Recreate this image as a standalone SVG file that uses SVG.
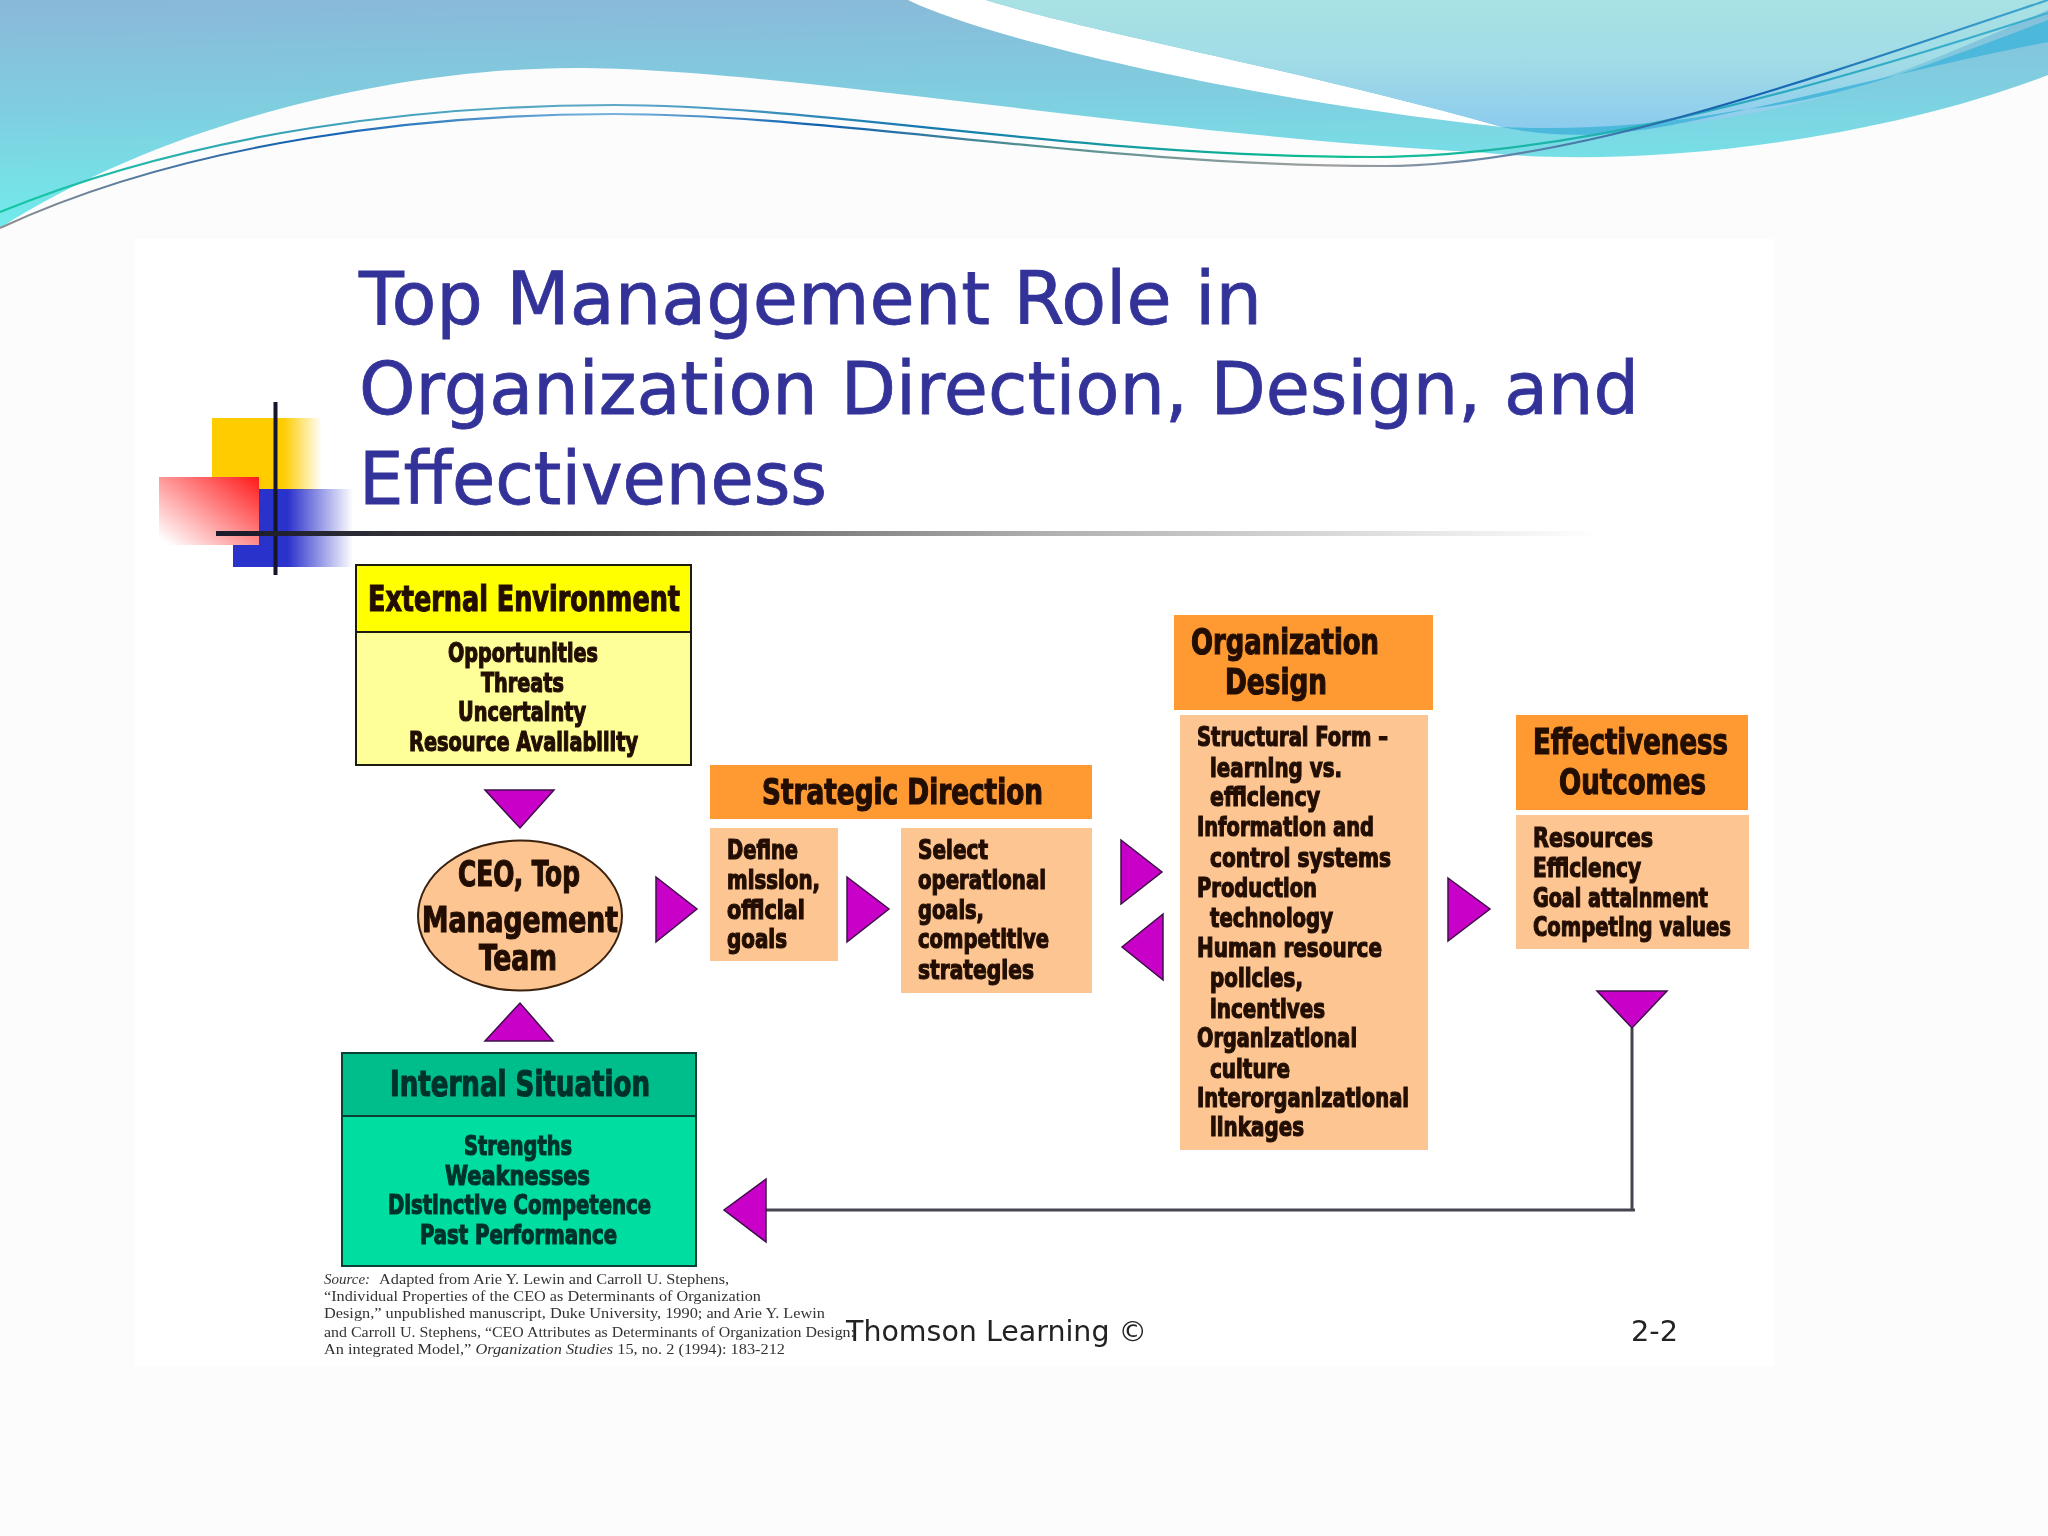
<svg xmlns="http://www.w3.org/2000/svg" width="2048" height="1536" viewBox="0 0 2048 1536">
<defs>
<filter id="soft" x="0" y="0" width="100%" height="100%" filterUnits="userSpaceOnUse"><feGaussianBlur stdDeviation="0.6"/></filter>
<linearGradient id="sky" x1="0" y1="0" x2="0.12" y2="1"><stop offset="0" stop-color="#8ab8d8"/><stop offset="0.5" stop-color="#7fcfe0"/><stop offset="1" stop-color="#70ecec"/></linearGradient>
<linearGradient id="pale" gradientUnits="userSpaceOnUse" x1="0" y1="0" x2="0" y2="130"><stop offset="0" stop-color="#a8e2e4"/><stop offset="0.45" stop-color="#a2dce6"/><stop offset="1" stop-color="#8ccbee"/></linearGradient>
<linearGradient id="lineA" gradientUnits="userSpaceOnUse" x1="0" y1="0" x2="2048" y2="0"><stop offset="0" stop-color="#14c8a0"/><stop offset="0.15" stop-color="#3aa0b8"/><stop offset="0.3" stop-color="#60a8c8"/><stop offset="0.45" stop-color="#1478b0"/><stop offset="0.65" stop-color="#10c090"/><stop offset="0.85" stop-color="#28a8c0"/><stop offset="1" stop-color="#40b0d0"/></linearGradient>
<linearGradient id="lineB" gradientUnits="userSpaceOnUse" x1="0" y1="0" x2="2048" y2="0"><stop offset="0" stop-color="#909090"/><stop offset="0.15" stop-color="#1060b0"/><stop offset="0.3" stop-color="#78b4dc"/><stop offset="0.4" stop-color="#1060b0"/><stop offset="0.5" stop-color="#509090"/><stop offset="0.65" stop-color="#a0a0a0"/><stop offset="0.85" stop-color="#1060b0"/><stop offset="1" stop-color="#40a8d0"/></linearGradient>
<linearGradient id="fadeY" x1="0" y1="0" x2="1" y2="0"><stop offset="0.65" stop-color="#ffcc00"/><stop offset="1" stop-color="#ffcc00" stop-opacity="0"/></linearGradient>
<linearGradient id="fadeB" x1="0" y1="0" x2="1" y2="0"><stop offset="0.45" stop-color="#2a30cc"/><stop offset="1" stop-color="#2a30cc" stop-opacity="0"/></linearGradient>
<linearGradient id="fadeR" x1="1" y1="0" x2="0" y2="0.9"><stop offset="0" stop-color="#ff1a1a"/><stop offset="1" stop-color="#ffffff"/></linearGradient>
<linearGradient id="rule" gradientUnits="userSpaceOnUse" x1="216" y1="0" x2="1600" y2="0"><stop offset="0" stop-color="#1a1a2a"/><stop offset="0.25" stop-color="#444"/><stop offset="0.6" stop-color="#b0b0b0"/><stop offset="1" stop-color="#fff"/></linearGradient>
</defs>
<style>
.t{font-family:"Liberation Sans Narrow","DejaVu Sans Condensed","Liberation Sans",sans-serif;font-weight:700;fill:#221006;stroke:#221006;stroke-width:1.2}
.h{font-size:36px}.b{font-size:27px}
.g{fill:#06332c;stroke:#06332c}
.title{font-family:"DejaVu Sans",sans-serif;font-size:73px;fill:#333399;stroke:#333399;stroke-width:.8}
.foot{font-family:"DejaVu Sans",sans-serif;font-size:29px;fill:#222}
.src{font-family:"Liberation Serif",serif;font-size:15px;fill:#333}
.tri{fill:#c800c8;stroke:#3c1048;stroke-width:1.5}
.peach{fill:#fdc592}.orange{fill:#ff9a33}
.wire{fill:none;stroke:#444450;stroke-width:3}
</style>
<rect width="2048" height="1536" fill="#fcfcfd"/>
<g filter="url(#soft)">
<g id="waves">
<path d="M0 0H2048V75C1880 140 1640 170 1476 152C1150 135 780 68 575 68C400 68 170 120 0 228Z" fill="url(#sky)"/>
<path d="M908 0C990 40 1250 100 1502 127C1300 70 1080 30 986 0Z" fill="#fff"/>
<path d="M986 0H2048V10C1900 75 1790 125 1590 129C1555 130 1525 129 1502 127C1300 70 1080 30 986 0Z" fill="url(#pale)"/>
<path d="M1502 127C1560 140 1620 135 1672 125C1800 100 1930 65 2048 42V20C1930 65 1840 100 1740 110C1650 127 1570 130 1502 127Z" fill="#4cb8dc"/>
<path d="M0 212C200 130 430 105 614 105C820 105 1080 157 1371 157C1560 157 1780 100 2048 13" fill="none" stroke="url(#lineA)" stroke-width="2.2"/>
<path d="M0 228C190 140 430 114 614 114C830 114 1100 166 1384 166C1560 166 1780 90 2048 0" fill="none" stroke="url(#lineB)" stroke-width="2.2"/>
</g>
<rect id="panel" x="135" y="239" width="1639" height="1127" fill="#fff"/>
<g id="logo">
<rect x="212" y="418" width="110" height="72" fill="url(#fadeY)"/>
<rect x="233" y="489" width="120" height="78" fill="url(#fadeB)"/>
<rect x="159" y="477" width="100" height="68" fill="url(#fadeR)"/>
<rect x="273.500" y="402" width="4" height="173" fill="#14142a"/>
<rect x="216" y="531" width="1390" height="5" fill="url(#rule)"/>
</g>
<g id="title" class="title">
<text x="359" y="324" textLength="903" lengthAdjust="spacingAndGlyphs">Top Management Role in</text>
<text x="359" y="414" textLength="1280" lengthAdjust="spacingAndGlyphs">Organization Direction, Design, and</text>
<text x="359" y="504" textLength="468" lengthAdjust="spacingAndGlyphs">Effectiveness</text>
</g>
<g id="connectors">
<path class="wire" d="M766 1210H1635M1632 1028V1210"/>
<path class="tri" d="M485 790H554L520 828Z"/>
<path class="tri" d="M485 1041H553L520 1003Z"/>
<path class="tri" d="M656 877L697 909L656 942Z"/>
<path class="tri" d="M847 877L889 909L847 942Z"/>
<path class="tri" d="M1121 840L1162 872L1121 904Z"/>
<path class="tri" d="M1163 914L1122 947L1163 980Z"/>
<path class="tri" d="M1448 878L1490 909L1448 941Z"/>
<path class="tri" d="M1597 991H1667L1632 1028Z"/>
<path class="tri" d="M766 1179L724 1210L766 1242Z"/>
</g>
<g id="external-environment">
<rect x="356" y="565" width="335" height="200" fill="#ffff99" stroke="#1a1a10" stroke-width="2"/>
<rect x="356" y="565" width="335" height="67" fill="#ffff00" stroke="#1a1a10" stroke-width="2"/>
<g class="t">
<text class="h" x="368" y="611" textLength="312" lengthAdjust="spacingAndGlyphs">External Environment</text>
<text class="b" x="448" y="662" textLength="150" lengthAdjust="spacingAndGlyphs">Opportunities</text>
<text class="b" x="481" y="692" textLength="83" lengthAdjust="spacingAndGlyphs">Threats</text>
<text class="b" x="458" y="721" textLength="128" lengthAdjust="spacingAndGlyphs">Uncertainty</text>
<text class="b" x="409" y="751" textLength="229" lengthAdjust="spacingAndGlyphs">Resource Availability</text>
</g>
</g>
<g id="ceo-team">
<ellipse cx="520" cy="915.500" rx="102" ry="75" fill="#fdc592" stroke="#3a2010" stroke-width="2"/>
<g class="t">
<text class="h" x="458" y="886" textLength="122" lengthAdjust="spacingAndGlyphs">CEO, Top</text>
<text class="h" x="422" y="932" textLength="196" lengthAdjust="spacingAndGlyphs">Management</text>
<text class="h" x="479" y="970" textLength="78" lengthAdjust="spacingAndGlyphs">Team</text>
</g>
</g>
<g id="strategic-direction">
<rect class="orange" x="710" y="765" width="382" height="54"/>
<text class="t h" x="762" y="804" textLength="281" lengthAdjust="spacingAndGlyphs">Strategic Direction</text>
</g>
<g id="define-mission">
<rect class="peach" x="710" y="828" width="128" height="133"/>
<g class="t">
<text class="b" x="727" y="859" textLength="71" lengthAdjust="spacingAndGlyphs">Define</text>
<text class="b" x="727" y="889" textLength="93" lengthAdjust="spacingAndGlyphs">mission,</text>
<text class="b" x="727" y="919" textLength="78" lengthAdjust="spacingAndGlyphs">official</text>
<text class="b" x="727" y="948" textLength="60" lengthAdjust="spacingAndGlyphs">goals</text>
</g>
</g>
<g id="select-goals">
<rect class="peach" x="901" y="828" width="191" height="165"/>
<g class="t">
<text class="b" x="918" y="859" textLength="70" lengthAdjust="spacingAndGlyphs">Select</text>
<text class="b" x="918" y="889" textLength="128" lengthAdjust="spacingAndGlyphs">operational</text>
<text class="b" x="918" y="919" textLength="66" lengthAdjust="spacingAndGlyphs">goals,</text>
<text class="b" x="918" y="948" textLength="131" lengthAdjust="spacingAndGlyphs">competitive</text>
<text class="b" x="918" y="979" textLength="116" lengthAdjust="spacingAndGlyphs">strategies</text>
</g>
</g>
<g id="organization-design">
<rect class="orange" x="1174" y="615" width="259" height="95"/>
<rect class="peach" x="1180" y="715" width="248" height="435"/>
<g class="t">
<text class="h" x="1191" y="654" textLength="188" lengthAdjust="spacingAndGlyphs">Organization</text>
<text class="h" x="1225" y="694" textLength="102" lengthAdjust="spacingAndGlyphs">Design</text>
<text class="b" x="1197" y="746" textLength="191" lengthAdjust="spacingAndGlyphs">Structural Form –</text>
<text class="b" x="1210" y="777" textLength="132" lengthAdjust="spacingAndGlyphs">learning vs.</text>
<text class="b" x="1210" y="806" textLength="110" lengthAdjust="spacingAndGlyphs">efficiency</text>
<text class="b" x="1197" y="836" textLength="177" lengthAdjust="spacingAndGlyphs">Information and</text>
<text class="b" x="1210" y="867" textLength="181" lengthAdjust="spacingAndGlyphs">control systems</text>
<text class="b" x="1197" y="897" textLength="120" lengthAdjust="spacingAndGlyphs">Production</text>
<text class="b" x="1210" y="927" textLength="123" lengthAdjust="spacingAndGlyphs">technology</text>
<text class="b" x="1197" y="957" textLength="185" lengthAdjust="spacingAndGlyphs">Human resource</text>
<text class="b" x="1210" y="987" textLength="93" lengthAdjust="spacingAndGlyphs">policies,</text>
<text class="b" x="1210" y="1018" textLength="115" lengthAdjust="spacingAndGlyphs">incentives</text>
<text class="b" x="1197" y="1047" textLength="160" lengthAdjust="spacingAndGlyphs">Organizational</text>
<text class="b" x="1210" y="1078" textLength="80" lengthAdjust="spacingAndGlyphs">culture</text>
<text class="b" x="1197" y="1107" textLength="212" lengthAdjust="spacingAndGlyphs">Interorganizational</text>
<text class="b" x="1210" y="1136" textLength="94" lengthAdjust="spacingAndGlyphs">linkages</text>
</g>
</g>
<g id="effectiveness-outcomes">
<rect class="orange" x="1516" y="715" width="232" height="95"/>
<rect class="peach" x="1516" y="815" width="233" height="134"/>
<g class="t">
<text class="h" x="1533" y="754" textLength="195" lengthAdjust="spacingAndGlyphs">Effectiveness</text>
<text class="h" x="1559" y="794" textLength="147" lengthAdjust="spacingAndGlyphs">Outcomes</text>
<text class="b" x="1533" y="847" textLength="120" lengthAdjust="spacingAndGlyphs">Resources</text>
<text class="b" x="1533" y="877" textLength="108" lengthAdjust="spacingAndGlyphs">Efficiency</text>
<text class="b" x="1533" y="907" textLength="175" lengthAdjust="spacingAndGlyphs">Goal attainment</text>
<text class="b" x="1533" y="936" textLength="198" lengthAdjust="spacingAndGlyphs">Competing values</text>
</g>
</g>
<g id="internal-situation">
<rect x="342" y="1053" width="354" height="213" fill="#00dda0" stroke="#0c4034" stroke-width="2"/>
<rect x="342" y="1053" width="354" height="63" fill="#00bd8c" stroke="#0c4034" stroke-width="2"/>
<g class="t">
<text class="h g" x="390" y="1096" textLength="260" lengthAdjust="spacingAndGlyphs">Internal Situation</text>
<text class="b g" x="464" y="1155" textLength="108" lengthAdjust="spacingAndGlyphs">Strengths</text>
<text class="b g" x="445" y="1185" textLength="145" lengthAdjust="spacingAndGlyphs">Weaknesses</text>
<text class="b g" x="388" y="1214" textLength="263" lengthAdjust="spacingAndGlyphs">Distinctive Competence</text>
<text class="b g" x="420" y="1244" textLength="197" lengthAdjust="spacingAndGlyphs">Past Performance</text>
</g>
</g>
<g id="source" class="src">
<text x="324" y="1284"><tspan font-style="italic">Source:</tspan><tspan dx="9" textLength="350" lengthAdjust="spacingAndGlyphs">Adapted from Arie Y. Lewin and Carroll U. Stephens,</tspan></text>
<text x="324" y="1301" textLength="437" lengthAdjust="spacingAndGlyphs">“Individual Properties of the CEO as Determinants of Organization</text>
<text x="324" y="1318" textLength="501" lengthAdjust="spacingAndGlyphs">Design,” unpublished manuscript, Duke University, 1990; and Arie Y. Lewin</text>
<text x="324" y="1337" textLength="531" lengthAdjust="spacingAndGlyphs">and Carroll U. Stephens, “CEO Attributes as Determinants of Organization Design:</text>
<text x="324" y="1354" textLength="461" lengthAdjust="spacingAndGlyphs">An integrated Model,” <tspan font-style="italic">Organization Studies</tspan> 15, no. 2 (1994): 183-212</text>
</g>
<g id="footer" class="foot">
<text x="846" y="1341" textLength="301" lengthAdjust="spacingAndGlyphs">Thomson Learning ©</text>
<text x="1631" y="1341" textLength="47" lengthAdjust="spacingAndGlyphs">2-2</text>
</g>
</g>
</svg>
